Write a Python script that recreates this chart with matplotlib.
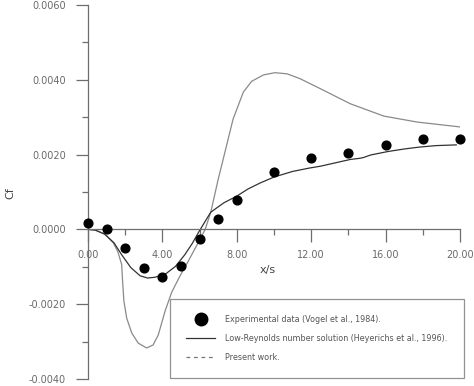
import matplotlib
matplotlib.use('Agg')
import matplotlib.pyplot as plt
from matplotlib.lines import Line2D
from matplotlib.ticker import MultipleLocator, FormatStrFormatter

# experimental data (Vogel et al., 1984)
exp_x = [0, 1, 2, 3, 4, 5, 6, 7, 8, 10, 12, 14, 16, 18, 20]
exp_cf = [0.00016, 0.0, -0.00051, -0.00102, -0.00126, -0.00097, -0.00027,
          0.00027, 0.00078, 0.00153, 0.0019, 0.00204, 0.00225, 0.00242, 0.00242]

# low-Reynolds number solution (Heyerichs et al., 1996)
lowre_x = [0, 0.4, 0.9, 1.36, 1.6, 1.81, 1.86, 1.93, 2.08, 2.35, 2.7, 3.15,
           3.5, 3.78, 4.14, 4.5, 4.94, 5.39, 5.93, 6.3, 6.6, 7.0, 7.27, 7.8,
           8.35, 8.8, 9.43, 10.05, 10.7, 11.4, 12.5, 14.1, 15.9, 17.7, 20]
lowre_cf = [0, -0.00002, -0.00012, -0.00036, -0.00059, -0.00094, -0.00139,
            -0.00192, -0.00237, -0.00277, -0.00304, -0.00317, -0.00309,
            -0.00282, -0.00219, -0.00168, -0.00125, -0.00085, -0.00035, 0.0,
            0.00046, 0.00134, 0.00188, 0.00295, 0.00367, 0.00396, 0.00413,
            0.00419, 0.00416, 0.00403, 0.00376, 0.00336, 0.00303, 0.00287,
            0.00274]

# present work
pres_x = [0, 0.4, 0.9, 1.4, 1.8, 2.3, 2.8, 3.2, 3.6, 4.2, 4.7, 5.2, 5.6, 6.0,
          6.6, 7.3, 8.0, 8.6, 9.25, 10.0, 11.0, 11.9, 12.5, 13.3, 14.1, 14.6,
          14.8, 15.2, 16.1, 17.0, 17.8, 18.7, 19.8]
pres_cf = [0, -0.00002, -0.00013, -0.00036, -0.00067, -0.00102, -0.00124,
           -0.0013, -0.00128, -0.00118, -0.00099, -0.00068, -0.00038,
           -0.00003, 0.00046, 0.00071, 0.00089, 0.00108, 0.00124, 0.0014,
           0.00155, 0.00164, 0.00169, 0.00178, 0.00187, 0.0019, 0.00192,
           0.00199, 0.00208, 0.00215, 0.0022, 0.00224, 0.00226]

legend_labels = ['Experimental data (Vogel et al., 1984).',
                 'Low-Reynolds number solution (Heyerichs et al., 1996).',
                 'Present work.']

axis_col = '#6e6e6e'
text_col = '#6a6a6a'

fig = plt.figure(figsize=(4.74, 3.86), dpi=100)
ax = fig.add_axes([88 / 474, 1 - 379 / 386, 372 / 474, 374 / 386])

ax.plot(lowre_x, lowre_cf, color='#8a8a8a', lw=0.9)
ax.plot(pres_x, pres_cf, color='#333333', lw=0.9)
ax.plot(exp_x, exp_cf, 'o', color='black', ms=6.3, zorder=3, clip_on=False)

ax.set_xlim(0, 20)
ax.set_ylim(-0.004, 0.006)

for s in ['top', 'right']:
    ax.spines[s].set_visible(False)
ax.spines['bottom'].set_position(('data', 0))
for s in ['left', 'bottom']:
    ax.spines[s].set_color(axis_col)
    ax.spines[s].set_linewidth(0.9)

ax.xaxis.set_major_locator(MultipleLocator(4))
ax.xaxis.set_minor_locator(MultipleLocator(2))
ax.yaxis.set_major_locator(MultipleLocator(0.002))
ax.yaxis.set_minor_locator(MultipleLocator(0.001))
ax.xaxis.set_major_formatter(FormatStrFormatter('%.2f'))
ax.yaxis.set_major_formatter(FormatStrFormatter('%.4f'))

ax.tick_params(which='major', length=9, width=0.9, color=axis_col,
               labelsize=7, labelcolor=text_col, direction='out')
ax.tick_params(which='minor', length=4.5, width=0.9, color=axis_col,
               direction='out')
ax.tick_params(axis='x', pad=6)
ax.tick_params(axis='y', pad=7)

ax.text(9.65, -0.00108, 'x/s', ha='center', va='center', fontsize=8,
        color='#444444')
fig.text(10 / 474, 1 - 193 / 386, 'Cf', rotation=90, ha='center',
         va='center', fontsize=8, color='#444444')

handles = [
    Line2D([], [], marker='o', ls='none', color='black', ms=9),
    Line2D([], [], color='#333333', lw=0.9),
    Line2D([], [], color='#777777', lw=0.9, ls=(0, (3, 3))),
]
leg = ax.legend(handles, legend_labels, loc='lower left',
                bbox_to_anchor=(0.2204, 0.0027, 0.7904, 0.2059),
                mode='expand', fontsize=5.8, frameon=True, fancybox=False,
                borderpad=2.0, labelspacing=1.25, handlelength=3.6,
                handletextpad=1.2, borderaxespad=0, labelcolor='#555555')
leg.get_frame().set_edgecolor('#777777')
leg.get_frame().set_linewidth(0.9)

fig.savefig('out.png', dpi=100)
